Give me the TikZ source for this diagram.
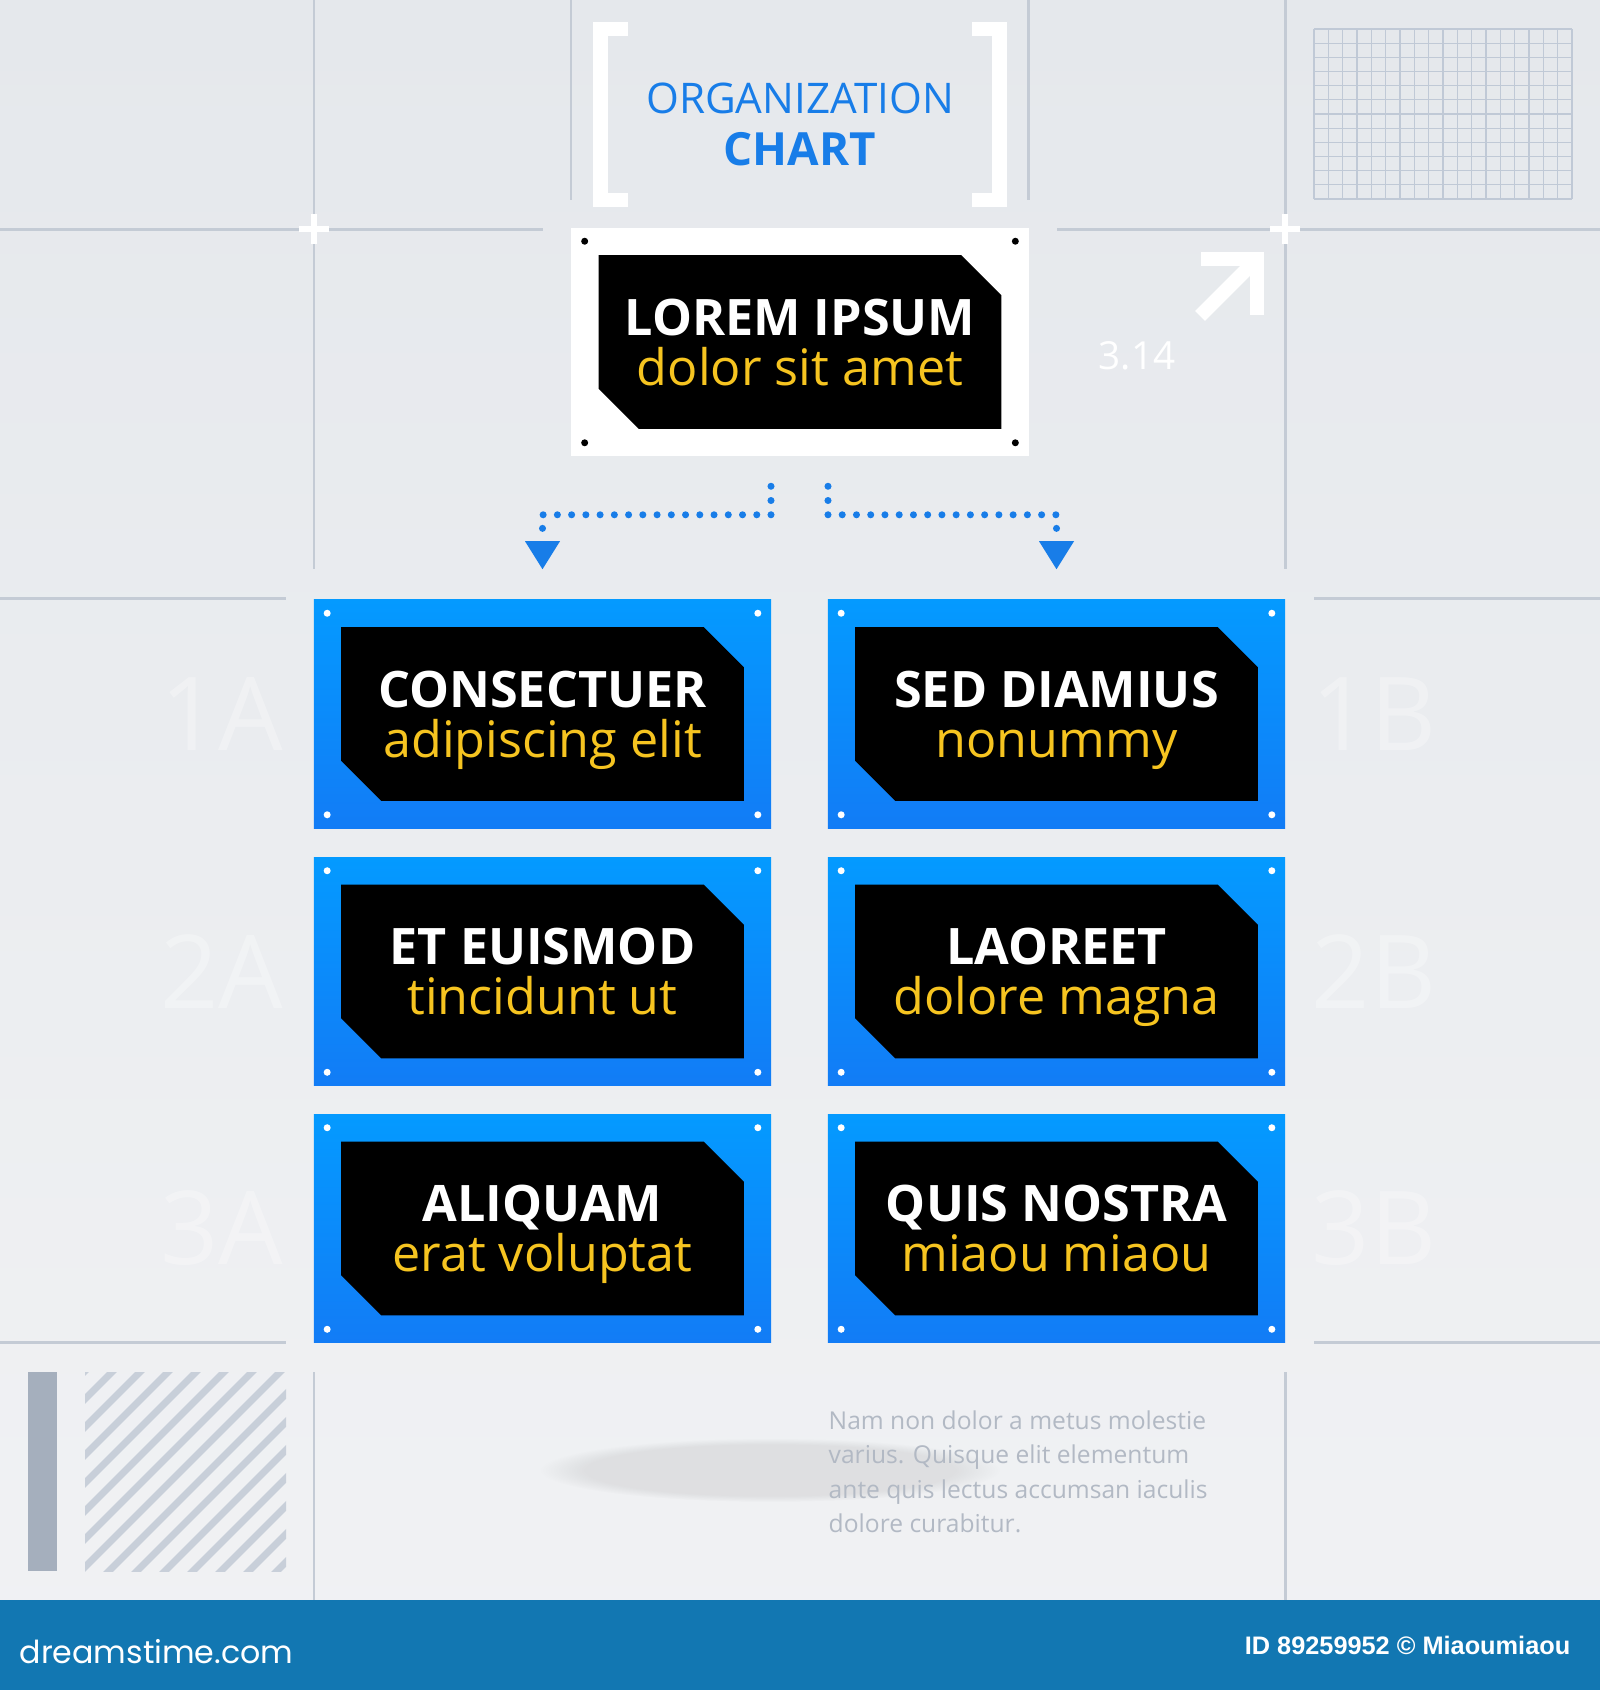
\documentclass[tikz,border=0pt]{standalone}
\usepackage{fontspec}
\setmainfont{Open Sans}
\newfontfamily\logofont{Poppins}
\newfontfamily\idfont{Liberation Sans}
\usetikzlibrary{calc,fadings}
\definecolor{bgtop}{RGB}{229,232,236}
\definecolor{bgbot}{RGB}{241,242,244}
\definecolor{rulegray}{RGB}{196,203,213}
\definecolor{cellgray}{RGB}{192,201,214}
\definecolor{chartblue}{RGB}{24,125,232}
\definecolor{plateblue}{RGB}{4,154,255}
\definecolor{plateblue2}{RGB}{18,124,246}
\definecolor{gold}{RGB}{246,196,32}
\definecolor{notegray}{RGB}{178,185,196}
\definecolor{stripegray}{RGB}{200,207,217}
\definecolor{slate}{RGB}{165,175,189}
\definecolor{barblue}{RGB}{18,119,178}
\tikzstyle{rule}=[draw=rulegray, line width=0.85pt]
\tikzstyle{cross}=[draw=white, line width=1.7pt]
\tikzstyle{cell}=[draw=cellgray, line width=0.3pt]
\tikzstyle{bracket}=[draw=white, line width=4pt, line join=miter]
\tikzstyle{plate}=[rectangle, minimum width=4.57cm, minimum height=2.28cm, inner sep=0pt]
\tikzstyle{blueplate}=[plate, top color=plateblue, bottom color=plateblue2]
\tikzstyle{whiteplate}=[plate, fill=white]
\tikzstyle{head}=[anchor=base, inner sep=0pt, text=white, font=\fontsize{14.3}{17}\selectfont\bfseries]
\tikzstyle{sub}=[anchor=base, inner sep=0pt, text=gold, font=\fontsize{14.3}{17}\selectfont]
\tikzstyle{titlelight}=[anchor=base, inner sep=0pt, text=chartblue, font=\fontsize{12}{14}\selectfont]
\tikzstyle{titlebold}=[anchor=base, inner sep=0pt, text=chartblue, font=\fontsize{13}{15}\selectfont\bfseries]
\tikzstyle{ghost}=[inner sep=0pt, text=white, opacity=0.3, font=\fontsize{29}{30}\selectfont]
\tikzstyle{dotline}=[draw=chartblue, line width=2pt, line cap=round, dash pattern=on 0pt off 4.05pt]
\tikzstyle{tipfill}=[fill=chartblue]
\tikzstyle{stripe}=[draw=stripegray, line width=2pt]

\begin{document}
\begin{tikzpicture}[x=0.01cm, y=-0.01cm]
    \useasboundingbox (0,0) rectangle (1600,1690);
    % backdrop
    \shade[top color=bgtop, bottom color=bgbot] (0,0) rectangle (1600,1690);
    \fill[black, opacity=0.07, path fading=circle with fuzzy edge 20 percent]
      (770,1470) ellipse [x radius=2.3cm, y radius=0.32cm];

    % frame lines
    \draw[rule] (571,0) -- (571,200) (1028,0) -- (1028,200);
    \draw[rule] (314,0) -- (314,569) (1285,0) -- (1285,569);
    \draw[rule] (0,229) -- (543,229) (1057,229) -- (1600,229);
    \foreach \y in {598,1342} {
      \draw[rule] (0,\y) -- (286,\y) (1314,\y) -- (1600,\y);
    }
    \draw[rule] (314,1372) -- (314,1600) (1285,1372) -- (1285,1600);
    \foreach \x in {314,1285} {
      \draw[cross] (\x-15,229) -- (\x+15,229) (\x,214) -- (\x,244);
    }

    % corner decorations
    \foreach \i in {0,...,18} {
      \draw[cell] (1314+\i*14.333,29) -- ++(0,170);
    }
    \foreach \j in {0,...,12} {
      \draw[cell] (1314,29+\j*14.167) -- ++(258,0);
    }
    \draw[white, line width=4pt, line join=miter] (1201,259) -- (1257,259) -- (1257,315);
    \draw[white, line width=4pt] (1200,316) -- (1254,262);
    \node[anchor=base west, inner sep=0pt, text=white, font=\fontsize{11}{12}\selectfont] (pi) at (1098,369) {3.14};
    \fill[slate] (28,1372) rectangle (57,1571);
    \begin{scope}
      \clip (85,1372) rectangle (286,1571);
      \foreach \k in {0,...,15} {
        \draw[stripe] (85+28*\k-210,1581) -- ++(220,-220);
      }
    \end{scope}

    % title
    \draw[bracket] (628,29) -- (600.5,29) -- (600.5,200) -- (628,200);
    \draw[bracket] (972,29) -- (999.5,29) -- (999.5,200) -- (972,200);
    \node[titlelight] (org) at (800,113) {ORGANIZATION};
    \node[titlebold] (chart) at (800,165) {CHART};

    % plates
    \node[whiteplate] (top) at (800,342) {};
    \foreach \n/\x/\y in {L1/542.5/714, L2/542.5/971.5, L3/542.5/1228.5,
                          R1/1056.5/714, R2/1056.5/971.5, R3/1056.5/1228.5} {
      \node[blueplate] (\n) at (\x,\y) {};
    }
    \foreach \n/\dc/\h/\s in {top/black/LOREM IPSUM/dolor sit amet,
        L1/white/CONSECTUER/adipiscing elit, R1/white/SED DIAMIUS/nonummy,
        L2/white/ET EUISMOD/tincidunt ut, R2/white/LAOREET/dolore magna,
        L3/white/ALIQUAM/erat voluptat, R3/white/QUIS NOSTRA/miaou miaou} {
      \fill[black] ($(\n.north west)+(28,28)$) -- ($(\n.north east)+(-68,28)$)
        -- ($(\n.north east)+(-28,68)$) -- ($(\n.south east)+(-28,-28)$)
        -- ($(\n.south west)+(68,-28)$) -- ($(\n.south west)+(28,-68)$) -- cycle;
      \fill[\dc] ($(\n.north west)+(14,14)$) circle (0.035cm)
        ($(\n.north east)+(-14,14)$) circle (0.035cm)
        ($(\n.south west)+(14,-14)$) circle (0.035cm)
        ($(\n.south east)+(-14,-14)$) circle (0.035cm);
      \node[head] (\n-h) at ($(\n.center)+(0,-7)$) {\h};
      \node[sub] (\n-s) at ($(\n.center)+(0,43)$) {\s};
    }
    \foreach \r/\y in {1/714, 2/971.5, 3/1228.5} {
      \node[ghost] (ga\r) at (222,\y) {\r A};
      \node[ghost] (gb\r) at (1374,\y) {\r B};
    }

    % connectors
    \draw[dotline] ($(top.south)+(-29,29.5)$) -- ++(0,28.5) -| ($(L1.north)+(0,-65)$);
    \draw[dotline] ($(top.south)+(28,29.5)$) -- ++(0,28.5) -| ($(R1.north)+(0,-65)$);
    \fill[tipfill] ($(L1.north)+(0,-30)$) -- ++(-17.5,-28) -- ++(35,0) -- cycle;
    \fill[tipfill] ($(R1.north)+(0,-30)$) -- ++(-17.5,-28) -- ++(35,0) -- cycle;

    % note
    \node[anchor=north west, align=left, inner sep=0pt, text=notegray,
      font=\fontsize{7}{9.8}\selectfont] (blurb) at (828,1410)
      {Nam non dolor a metus molestie\\varius. Quisque elit elementum\\ante quis lectus accumsan iaculis\\dolore curabitur.};

    % credit bar
    \fill[barblue] (0,1600) rectangle (1600,1690);
    \node[anchor=base west, inner sep=0pt, text=white, font=\logofont\fontsize{9}{10}\selectfont] (logo) at (19,1663) {dreamstime.com};
    \node[anchor=base east, inner sep=0pt, text=white, font=\idfont\bfseries\fontsize{7.2}{9}\selectfont] (imgid) at (1571,1654) {ID 89259952 © Miaoumiaou};
  \end{tikzpicture}
\end{document}
